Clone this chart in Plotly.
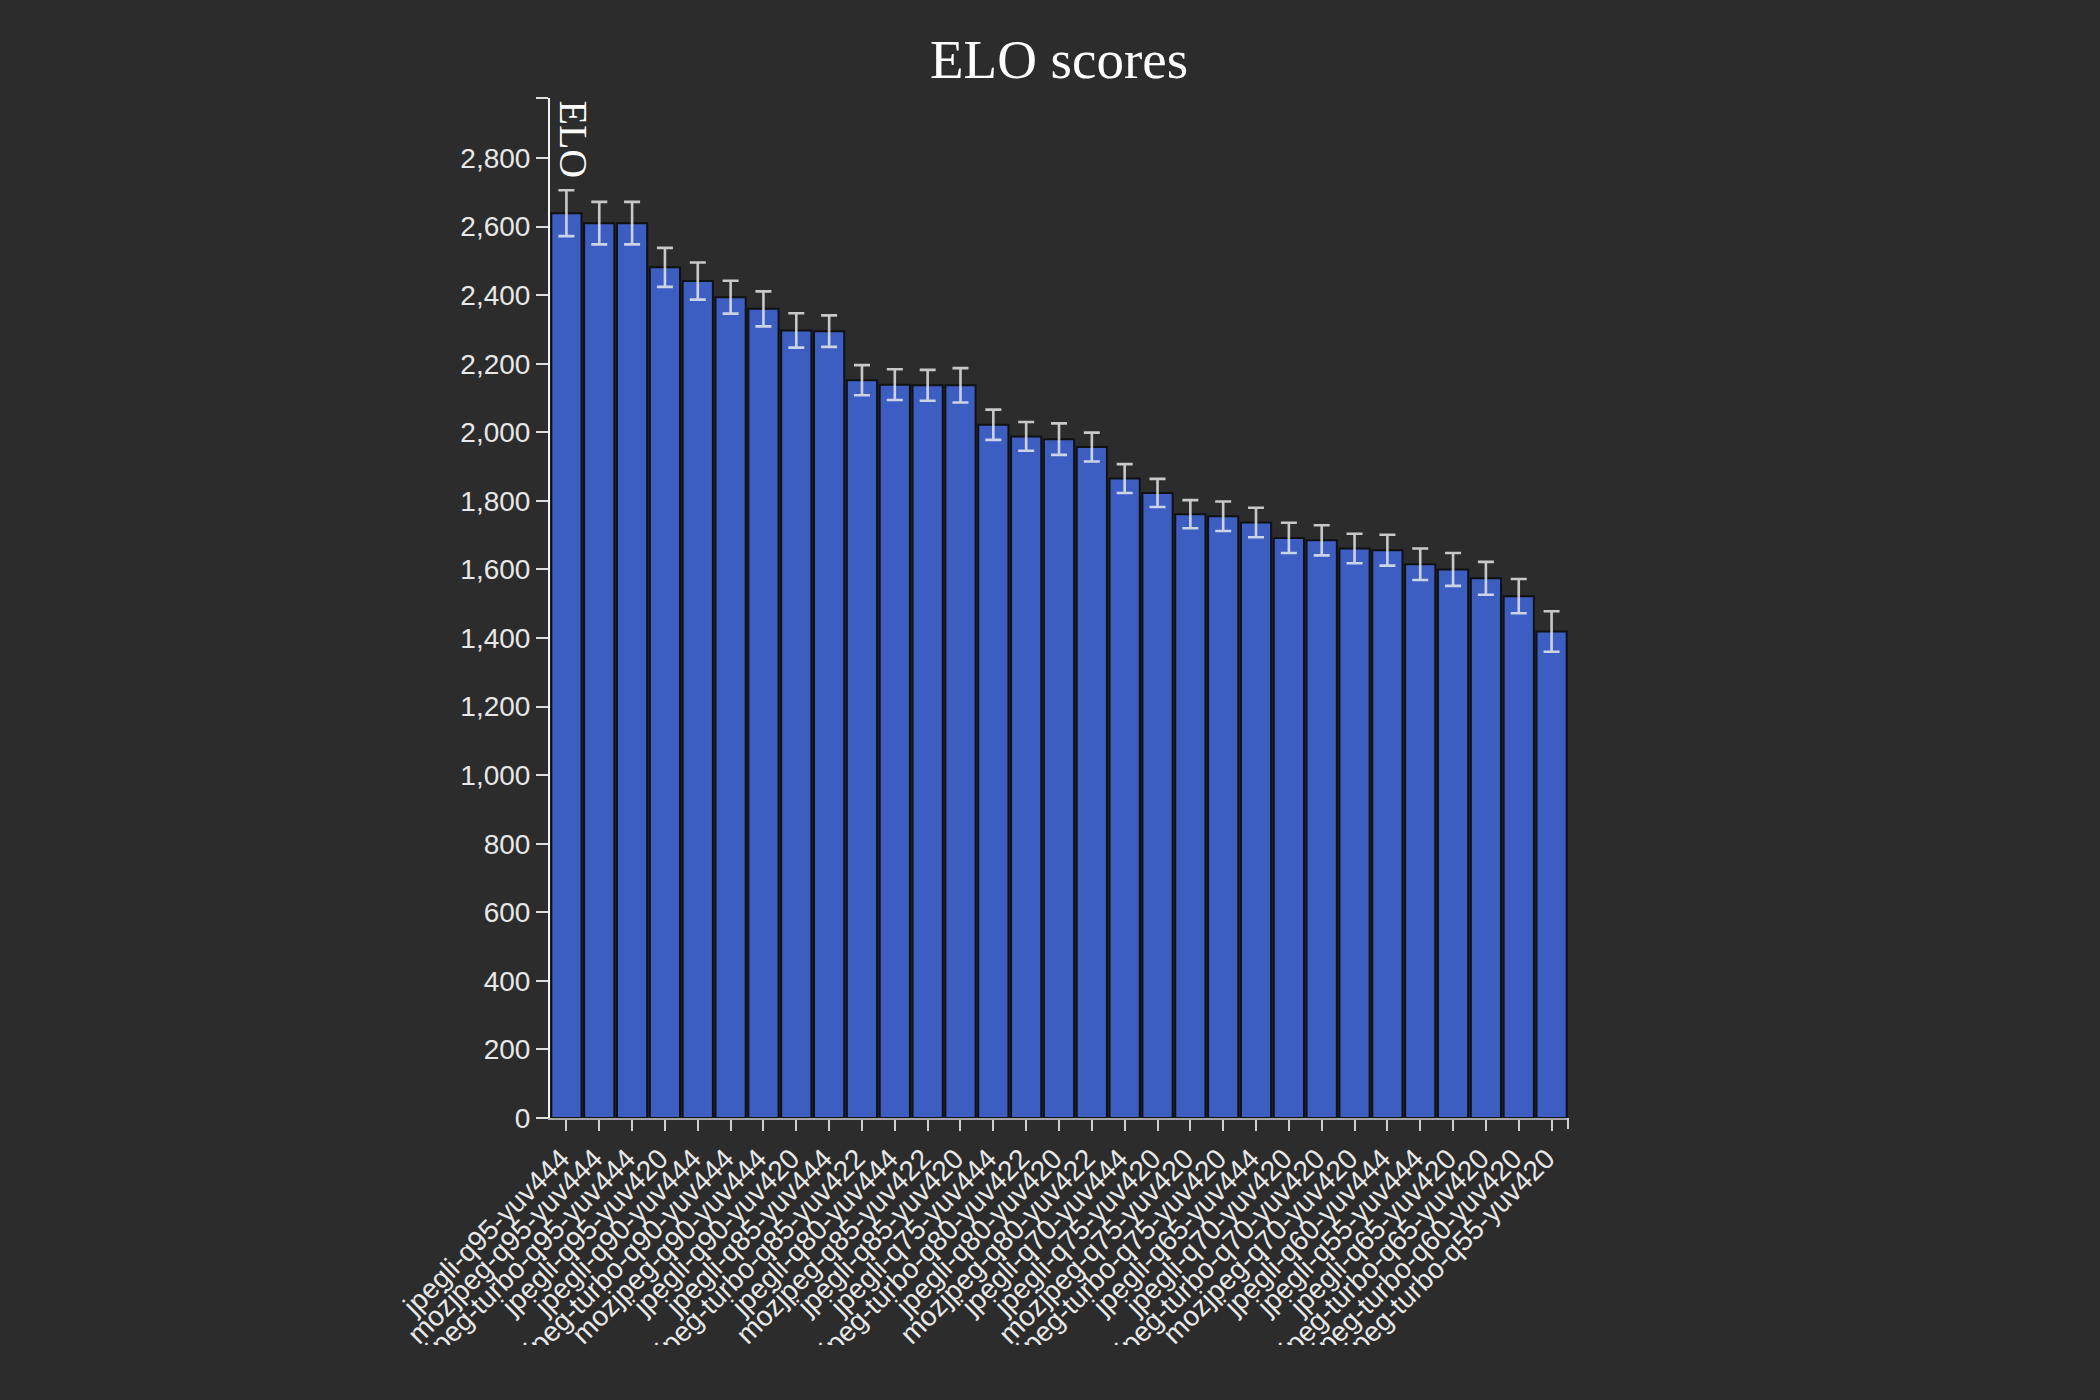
import plotly.graph_objects as go

# ---- data ----
labels = [
    "jpegli-q95-yuv444", "mozjpeg-q95-yuv444", "libjpeg-turbo-q95-yuv444", "jpegli-q95-yuv420",
    "jpegli-q90-yuv444", "libjpeg-turbo-q90-yuv444", "mozjpeg-q90-yuv444", "jpegli-q90-yuv420",
    "jpegli-q85-yuv444", "libjpeg-turbo-q85-yuv422", "jpegli-q80-yuv444", "mozjpeg-q85-yuv422",
    "jpegli-q85-yuv420", "jpegli-q75-yuv444", "libjpeg-turbo-q80-yuv422", "jpegli-q80-yuv420",
    "mozjpeg-q80-yuv422", "jpegli-q70-yuv444", "jpegli-q75-yuv420", "mozjpeg-q75-yuv420",
    "libjpeg-turbo-q75-yuv420", "jpegli-q65-yuv444", "jpegli-q70-yuv420", "libjpeg-turbo-q70-yuv420",
    "mozjpeg-q70-yuv420", "jpegli-q60-yuv444", "jpegli-q55-yuv444", "jpegli-q65-yuv420",
    "libjpeg-turbo-q65-yuv420", "libjpeg-turbo-q60-yuv420", "libjpeg-turbo-q55-yuv420",
]
elo = [2639, 2610, 2610, 2481, 2441, 2394, 2360, 2297, 2295, 2152, 2139, 2137, 2137, 2022,
       1988, 1980, 1957, 1865, 1823, 1761, 1755, 1737, 1692, 1685, 1661, 1656, 1615, 1600,
       1574, 1522, 1419]
err = [67, 62, 62, 57, 54, 48, 51, 50, 46, 44, 45, 45, 50, 44,
       42, 46, 42, 42, 41, 41, 43, 43, 44, 44, 43, 45, 46, 48,
       48, 50, 59]

y_top = 2975
y_tick_vals = list(range(0, 2801, 200))

BG = "#2c2c2c"
W, H = 2100, 1400
ML, MR, MT, MB = 550, 532, 98, 282
plot_h = H - MT - MB

fig = go.Figure(
    go.Bar(
        x=labels,
        y=elo,
        marker=dict(color="#3c5ec3", line=dict(color="#111111", width=2)),
        error_y=dict(type="data", array=err, color="rgba(240,240,240,0.8)",
                     thickness=2.6, width=8),
        hoverinfo="x+y",
    )
)

tickvals = y_tick_vals + [y_top]
ticktext = [f"{v:,}" for v in y_tick_vals] + [""]

fig.update_layout(
    width=W, height=H, autosize=False,
    paper_bgcolor=BG, plot_bgcolor=BG,
    margin=dict(l=ML, r=MR, t=MT, b=MB, pad=0),
    bargap=0.08,
    showlegend=False,
    title=dict(text="ELO scores", x=0.5, xref="paper", xanchor="center",
               y=1 - 59 / H, yref="container", yanchor="middle",
               font=dict(family="Liberation Serif", size=55, color="#ffffff")),
    xaxis=dict(
        type="category", range=[-0.5, len(labels) - 0.5],
        tickmode="array", tickvals=labels, ticktext=labels,
        showline=True, linecolor="#a8a8a8", linewidth=2,
        ticks="outside", ticklen=11, tickwidth=2, tickcolor="#cfcfcf",
        tickangle=-45, automargin=False, showgrid=False, ticklabelshift=-5,
        tickfont=dict(family="Liberation Sans", size=28, color="#e8e8e8"),
    ),
    yaxis=dict(
        range=[0, y_top], tickmode="array", tickvals=tickvals, ticktext=ticktext,
        showline=True, linecolor="#f2f2f2", linewidth=2,
        ticks="outside", ticklen=12, tickwidth=2, tickcolor="#dddddd",
        showgrid=False, zeroline=False, automargin=False,
        tickfont=dict(family="Liberation Sans", size=28, color="#e8e8e8"),
    ),
    annotations=[
        dict(text="ELO", textangle=90, xref="paper", yref="paper", x=0, y=1,
             xanchor="left", yanchor="top", xshift=-1, showarrow=False,
             font=dict(family="Liberation Serif", size=40, color="#ffffff")),
    ],
    shapes=[
        # right-end outer tick of the x axis
        dict(type="line", xref="paper", yref="paper", x0=1, x1=1, y0=0, y1=-11 / plot_h,
             line=dict(color="#cfcfcf", width=2), layer="above"),
        # clip the rotated labels at the bottom edge like the reference
        dict(type="rect", xref="paper", yref="paper", x0=-1, x1=2,
             y0=-(1345 - (H - MB)) / plot_h, y1=-0.6,
             fillcolor=BG, line=dict(width=0), layer="above"),
    ],
)

fig.write_html("out.html")
